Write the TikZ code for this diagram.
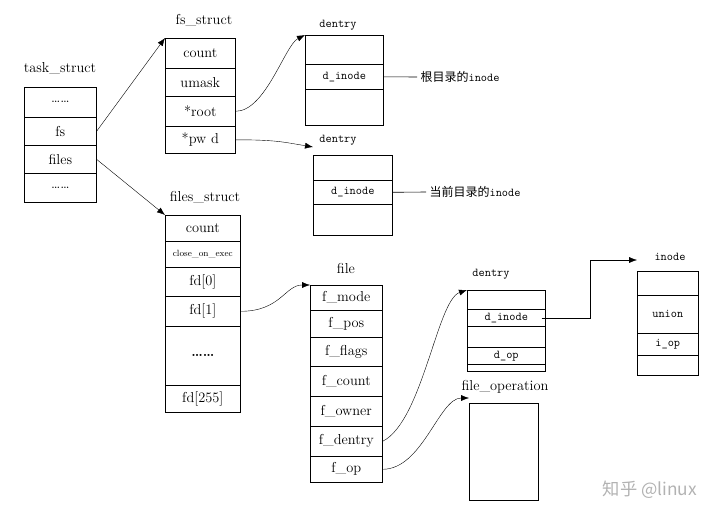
\documentclass[tikz,border=0pt]{standalone}
\usepackage{fontspec}
\newfontfamily\cjk{Noto Sans CJK SC}
\usetikzlibrary{arrows.meta}
\newcommand\cell[6]{% name, x, y, w, h, text
  \node[cell, minimum width=#4pt, minimum height=#5pt] (#1) at (#2,#3) {#6};}
\begin{document}
\begin{tikzpicture}[x=1pt,y=-1pt, semithick,
  cell/.style={draw, anchor=north west, inner sep=0pt, font=\Large},
  tt/.style={font=\large\ttfamily},
  lbl/.style={font=\Large},
  ptr/.style={-{Latex[length=8pt,width=6pt]}, thin}]
\useasboundingbox (0,0) rectangle (728,519);
% task_struct
\node[lbl] (tsl) at (60,68) {task\_struct};
\cell{t1}{24}{87}{72}{30}{\dots\dots}
\cell{t2}{24}{117}{72}{28}{fs}
\cell{t3}{24}{145}{72}{28}{files}
\cell{t4}{24}{173}{72}{29}{\dots\dots}
% fs_struct
\node[lbl] (fsl) at (204,20) {fs\_struct};
\cell{s1}{165}{38}{70}{30}{count}
\cell{s2}{165}{68}{70}{28}{umask}
\cell{s3}{165}{96}{70}{30}{*root}
\cell{s4}{165}{126}{70}{27}{*pw d}
% dentry 1
\node[tt] (d1l) at (338,25) {dentry};
\cell{a1}{305}{35}{78}{29}{}
\cell{a2}{305}{64}{78}{25}{\large\ttfamily d\_inode}
\cell{a3}{305}{89}{78}{36}{}
\node[anchor=west, font=\cjk\large] (r1) at (417,77) {根目录的\ttfamily inode};
% dentry 2
\node[tt] (d2l) at (338,140) {dentry};
\cell{b1}{313}{155}{79}{25}{}
\cell{b2}{313}{180}{79}{24}{\large\ttfamily d\_inode}
\cell{b3}{313}{204}{79}{31}{}
\node[anchor=west, font=\cjk\large] (r2) at (426,192) {当前目录的\ttfamily inode};
% files_struct
\node[lbl] (fl) at (205,197) {files\_struct};
\cell{f1}{165}{215}{75}{26}{count}
\cell{f2}{165}{241}{75}{26}{\small close\_on\_exec}
\cell{f3}{165}{267}{75}{29}{fd[0]}
\cell{f4}{165}{296}{75}{30}{fd[1]}
\cell{f5}{165}{326}{75}{59}{\bfseries\dots\dots}
\cell{f6}{165}{385}{75}{27}{fd[255]}
% file
\node[lbl] (filel) at (346,269) {file};
\cell{e1}{310}{285}{72}{25}{f\_mode}
\cell{e2}{310}{310}{72}{27}{f\_pos}
\cell{e3}{310}{337}{72}{29}{f\_flags}
\cell{e4}{310}{366}{72}{30}{f\_count}
\cell{e5}{310}{396}{72}{30}{f\_owner}
\cell{e6}{310}{426}{72}{30}{f\_dentry}
\cell{e7}{310}{456}{72}{26}{f\_op}
% dentry 3
\node[tt] (d3l) at (491,274) {dentry};
\cell{c1}{467}{290}{78}{19}{}
\cell{c2}{467}{309}{78}{17}{\large\ttfamily d\_inode}
\cell{c3}{467}{326}{78}{21}{}
\cell{c4}{467}{347}{78}{17}{\large\ttfamily d\_op}
\cell{c5}{467}{364}{78}{7}{}
% inode
\node[tt] (il) at (670,257) {inode};
\cell{i1}{637}{271}{61}{24}{}
\cell{i2}{637}{295}{61}{38}{\large\ttfamily union}
\cell{i3}{637}{333}{61}{22}{\large\ttfamily i\_op}
\cell{i4}{637}{355}{61}{20}{}
% file_operation
\node[lbl] (fol) at (505,387) {file\_operation};
\node[draw, anchor=north west, minimum width=69pt, minimum height=97pt] (fo) at (469,403) {};
% watermark
\node[font=\cjk\LARGE, text=black!30] (wm) at (650,490) {知乎 @linux};
% connectors
\draw[ptr] (t2.east) -- (s1.north west);
\draw[ptr] (t3.east) -- (f1.north west);
\draw[ptr] (s3.east) .. controls +(30,0) and +(-20,10) .. (a1.north west);
\draw[ptr] (s4.east) .. controls +(40,0) and +(-30,-5) .. ([yshift=8]b1.north west);
\draw (a2.east) -- (r1.west);
\draw (b2.east) -- (r2.west);
\draw[ptr] (f4.east) .. controls +(40,0) and +(-25,0) .. (e1.north west);
\draw[ptr] (e6.east) .. controls +(40,-20) and +(-30,10) .. (c1.north west);
\draw[ptr] (e7.east) .. controls +(40,0) and +(-30,0) .. ([yshift=5]fo.north west);
\draw[ptr] ([xshift=-4]c2.east) -- +(49,0) |- ([yshift=11]i1.north west);
\end{tikzpicture}
\end{document}
